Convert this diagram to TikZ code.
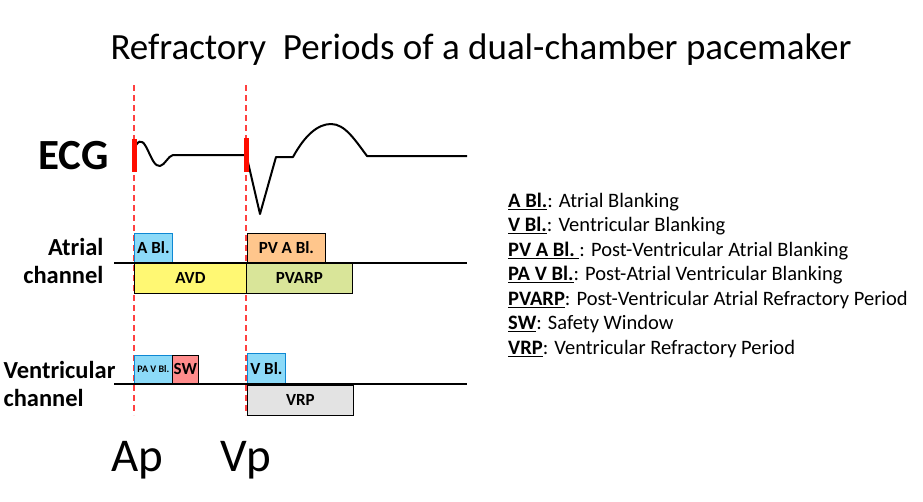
\documentclass[tikz,border=0pt]{standalone}
\usepackage{fontspec}
\setmainfont{Carlito}
\begin{document}
\begin{tikzpicture}[x=1pt,y=-1pt,
  bx/.style={draw, line width=0.8pt, anchor=north west, inner sep=0pt, font=\fontsize{17}{17}\selectfont\bfseries},
  cy/.style={bx, draw=cyan!70!blue, fill=cyan!45!white},
  chan/.style={font=\fontsize{24.5}{28}\selectfont\bfseries, align=right, anchor=east},
  leg/.style={anchor=west, font=\fontsize{20.5}{20.5}\selectfont, inner sep=0pt},
  dsh/.style={red!75!white, dash pattern=on 6pt off 4pt, line width=1.2pt}]
\useasboundingbox (0,0) rectangle (923,501);
\node[font=\fontsize{37}{40}\selectfont] (title) at (481,50) {Refractory\ \ Periods of a dual-chamber pacemaker};
\coordinate (d1t) at (134,85); \coordinate (d1b) at (134,415);
\coordinate (d2t) at (246,85); \coordinate (d2b) at (246,415);
\draw[dsh] (d1t) -- (d1b);
\draw[dsh] (d2t) -- (d2b);
\node[font=\fontsize{43}{43}\selectfont\bfseries, anchor=east] (ecg) at (112,156) {ECG};
\draw[line width=2pt, line join=round] (136,145) .. controls (146,130) and (150,168) .. (160,166) .. controls (165,165) and (168,156) .. (173,155) -- (246,155);
\draw[line width=2pt, line join=round] (247,158) -- (260,214) -- (276,157) -- (293,157) .. controls (305,135) and (318,124) .. (331,124) .. controls (345,124) and (355,140) .. (367,156) -- (467,156);
\fill[red!90!orange] (132,139) rectangle (137,172);
\fill[red!90!orange] (244,138) rectangle (249,172);
\node[chan] (atr) at (107,261) {Atrial\\channel};
\node[chan, anchor=west, align=left] (ven) at (0,384) {Ventricular\\channel};
\node[cy, minimum width=38pt, minimum height=29pt, anchor=north west] (abl) at (134,233) {A Bl.};
\node[bx, fill=orange!45!white, draw=black, minimum width=78pt, minimum height=29pt] (pvabl) at (247,233) {PV A Bl.};
\node[bx, fill=yellow!55!white, minimum width=112pt, minimum height=30pt] (avd) at (134,263) {AVD};
\node[bx, fill=lime!50!olive!40!white, minimum width=106pt, minimum height=30pt] (pvarp) at (246,263) {PVARP};
\coordinate (a1) at (114,263); \coordinate (a2) at (467,263);
\draw[line width=2pt] (a1) -- (a2);
\node[cy, minimum width=38pt, minimum height=28pt, font=\fontsize{10}{10}\selectfont\bfseries] (pavbl) at (134,355) {PA V Bl.};
\node[bx, fill=red!45!white, minimum width=26pt, minimum height=28pt] (sw) at (172,355) {SW};
\node[cy, minimum width=38pt, minimum height=30pt] (vbl) at (247,353) {V Bl.};
\node[bx, fill=black!11, minimum width=106pt, minimum height=30pt] (vrp) at (247,385) {VRP};
\coordinate (v1) at (114,384); \coordinate (v2) at (467,384);
\draw[line width=2pt] (v1) -- (v2);
\node[font=\fontsize{47}{47}\selectfont] (ap) at (137,460) {Ap};
\node[font=\fontsize{47}{47}\selectfont] (vp) at (246,460) {Vp};
\node[leg] (l1) at (508,202) {\textbf{\underline{A Bl.}}: Atrial Blanking};
\node[leg] (l2) at (508,226) {\textbf{\underline{V Bl.}}: Ventricular Blanking};
\node[leg] (l3) at (508,251) {\textbf{\underline{PV A Bl.\ }}: Post-Ventricular Atrial Blanking};
\node[leg] (l4) at (508,275) {\textbf{\underline{PA V Bl.}}: Post-Atrial Ventricular Blanking};
\node[leg] (l5) at (508,300) {\textbf{\underline{PVARP}}: Post-Ventricular Atrial Refractory Period};
\node[leg] (l6) at (508,324) {\textbf{\underline{SW}}: Safety Window};
\node[leg] (l7) at (508,349) {\textbf{\underline{VRP}}: Ventricular Refractory Period};
\end{tikzpicture}
\end{document}
